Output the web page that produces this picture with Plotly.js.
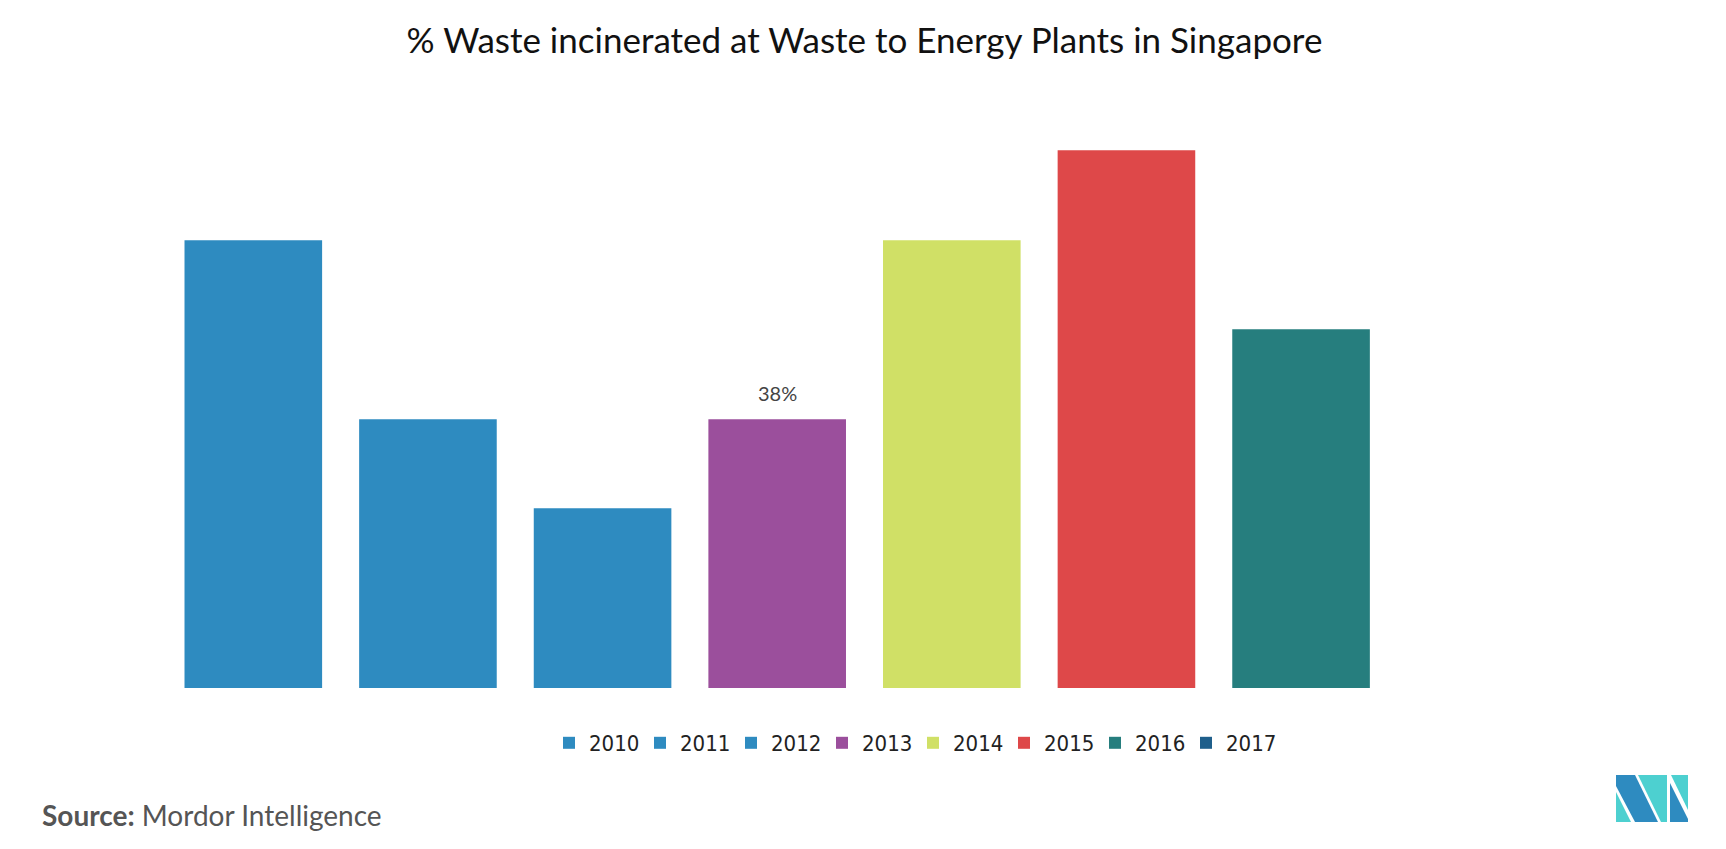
<!DOCTYPE html>
<html><head><meta charset="utf-8">
<script src="https://cdn.plot.ly/plotly-3.0.1.min.js"></script>
<style>html,body{margin:0;padding:0;background:#fff}#chart{width:1726px;height:849px}</style>
</head><body><div id="chart"></div>
<script>
const years = ['2010','2011','2012','2013','2014','2015','2016','2017'];
const values = [63.3, 38, 25.4, 38, 63.3, 76, 50.7, null];
const colors = ['#2E8BC0','#2E8BC0','#2E8BC0','#9B4F9C','#D0E066','#DE4849','#267E7E','#1F5F8B'];
const labelled = '2013';
const titleText = '% Waste incinerated at Waste to Energy Plants in Singapore';

const W = 1726, H = 849;
const M = {l:166, r:163, t:122, b:161};
const yMax = 80;
const px2x = p => (p - M.l) / (W - M.l - M.r);
const py2y = p => (H - M.b - p) / (H - M.t - M.b);

const traces = years.map((yr, i) => ({
  type: 'bar', name: yr, x: [yr], y: [values[i]],
  marker: {color: colors[i]}, hoverinfo: 'none'
}));

const li = years.indexOf(labelled);
const pt = (x,y) => px2x(x).toFixed(5)+','+py2y(y).toFixed(5);
const poly = pts => 'M' + pts.map(p => pt(p[0],p[1])).join(' L') + ' Z';
const dark = '#2E8BC0', light = '#4DD0D0';
const shapes = [
  {type:'path', xref:'paper', yref:'paper', line:{width:0}, fillcolor: light, path: poly([[1616,792],[1616,822],[1631,822]])},
  {type:'path', xref:'paper', yref:'paper', line:{width:0}, fillcolor: dark, path: poly([[1616,775],[1635,775],[1658,822],[1635,822],[1616,786]])},
  {type:'path', xref:'paper', yref:'paper', line:{width:0}, fillcolor: light, path: poly([[1638,775],[1667,775],[1667,822],[1661,822]])},
  {type:'path', xref:'paper', yref:'paper', line:{width:0}, fillcolor: light, path: poly([[1671,775],[1688,775],[1688,810]])},
  {type:'path', xref:'paper', yref:'paper', line:{width:0}, fillcolor: dark, path: poly([[1670,783],[1688,819],[1688,822],[1670,822]])}
];

const layout = {
  width: W, height: H,
  margin: M,
  paper_bgcolor: '#fff', plot_bgcolor: '#fff',
  barmode: 'overlay', bargap: 0.212,
  showlegend: true,
  title: {text: titleText, x: 0.5, xref: 'paper', xanchor: 'center', y: 1 - 41/H, yref: 'container', yanchor: 'middle',
    font: {family: 'Lato, "Open Sans", sans-serif', size: 35, color: '#111'}},
  xaxis: {type: 'category', categoryorder: 'array', categoryarray: years, range: [-0.5, years.length - 0.5],
    showticklabels: false, showgrid: false, zeroline: false, showline: false, ticks: ''},
  yaxis: {range: [0, yMax], showticklabels: false, showgrid: false, zeroline: false, showline: false, ticks: ''},
  legend: {orientation: 'h', x: px2x(913), xanchor: 'center', y: py2y(743), yanchor: 'middle',
    font: {family: '"DejaVu Sans Condensed", sans-serif', size: 22, color: '#222'},
    itemwidth: 30, entrywidth: 46, entrywidthmode: 'pixels', traceorder: 'normal', itemclick: false},
  annotations: [
    {x: li, y: values[li], xref: 'x', yref: 'y', text: values[li] + '%', showarrow: false,
      yanchor: 'bottom', yshift: 12, font: {family: 'Lato, sans-serif', size: 20, color: '#444'}},
    {xref: 'paper', yref: 'paper', x: px2x(40), y: py2y(815), xanchor: 'left', yanchor: 'middle', showarrow: false,
      text: '<b>Source:</b> Mordor Intelligence', font: {family: 'Lato, "Open Sans", sans-serif', size: 28, color: '#555'}}
  ],
  shapes: shapes
};

Plotly.newPlot('chart', traces, layout, {displayModeBar: false, staticPlot: true});
</script></body></html>
